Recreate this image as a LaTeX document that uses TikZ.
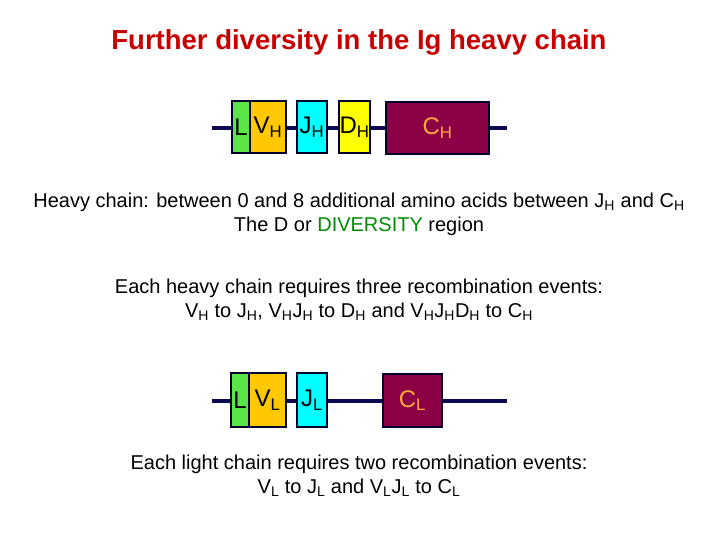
\documentclass[tikz,border=0pt]{standalone}
\usepackage{fontspec}
\setmainfont{Liberation Sans}
\begin{document}
\begin{tikzpicture}[x=1pt,y=-1pt,
  seg/.style={draw=black!70!blue!60!black,line width=1.3pt,minimum height=52pt,inner sep=0pt,font=\fontsize{24}{26}\selectfont},
  wire/.style={line width=3.5pt,draw={rgb,255:red,10;green,10;blue,80}},
  txt/.style={font=\fontsize{20}{24}\selectfont,align=center}]
\useasboundingbox (0,0) rectangle (720,540);
\definecolor{lg}{RGB}{90,230,70}\definecolor{og}{RGB}{255,200,0}
\definecolor{cy}{RGB}{0,255,255}\definecolor{ye}{RGB}{255,255,0}
\definecolor{mr}{RGB}{140,0,70}\definecolor{tl}{RGB}{200,0,0}
\definecolor{gr}{RGB}{0,140,0}\definecolor{or}{RGB}{255,170,60}
\node[font=\bfseries\fontsize{27.5}{32}\selectfont,text=tl] (title) at (359,42) {Further diversity in the Ig heavy chain};
% heavy
\coordinate (h0) at (212,128); \coordinate (h1) at (507,128);
\draw[wire] (h0) -- (h1);
\node[seg,fill=lg,minimum width=18pt] (hL) at (241,127) {L};
\node[seg,fill=og,minimum width=36pt] (hV) at (268,127) {V\textsubscript{H}};
\node[seg,fill=cy,minimum width=30pt] (hJ) at (312,127) {J\textsubscript{H}};
\node[seg,fill=ye,minimum width=31pt] (hD) at (354.5,127) {D\textsubscript{H}};
\node[seg,fill=mr,text=or,minimum width=103pt] (hC) at (437.5,128) {C\textsubscript{H}};
\node[txt] (t1) at (359,214) {Heavy chain: between 0 and 8 additional amino acids between J\textsubscript{H} and C\textsubscript{H}\\The D or \textcolor{gr}{DIVERSITY} region};
\node[txt] (t2) at (359,300) {Each heavy chain requires three recombination events:\\V\textsubscript{H} to J\textsubscript{H}, V\textsubscript{H}J\textsubscript{H} to D\textsubscript{H} and V\textsubscript{H}J\textsubscript{H}D\textsubscript{H} to C\textsubscript{H}};
% light
\coordinate (l0) at (212,401); \coordinate (l1) at (507,401);
\draw[wire] (l0) -- (l1);
\node[seg,fill=lg,minimum width=18pt,minimum height=54pt] (lL) at (240,400) {L};
\node[seg,fill=og,minimum width=37pt,minimum height=54pt] (lV) at (267.5,400) {V\textsubscript{L}};
\node[seg,fill=cy,minimum width=30pt,minimum height=54pt] (lJ) at (312,400) {J\textsubscript{L}};
\node[seg,fill=mr,text=or,minimum width=59pt,minimum height=53pt] (lC) at (412.5,400.5) {C\textsubscript{L}};
\node[txt] (t3) at (359,476) {Each light chain requires two recombination events:\\V\textsubscript{L} to J\textsubscript{L} and V\textsubscript{L}J\textsubscript{L} to C\textsubscript{L}};
\end{tikzpicture}
\end{document}
